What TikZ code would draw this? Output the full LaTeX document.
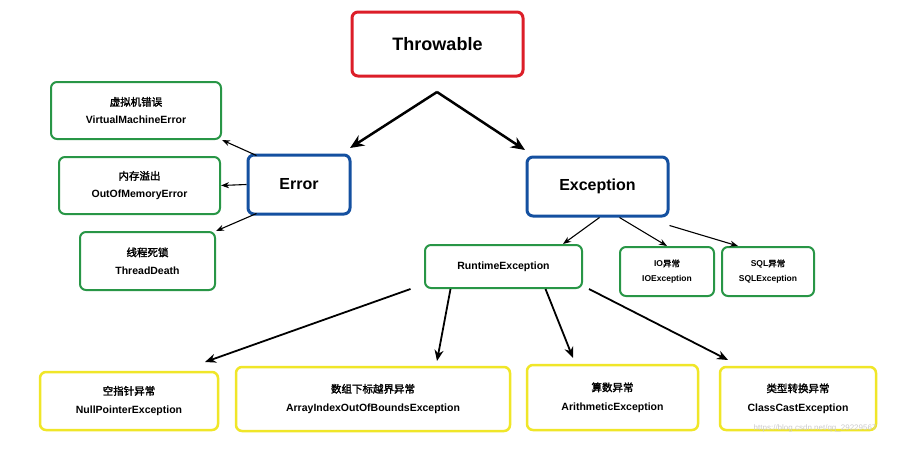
\documentclass[tikz,border=0pt]{standalone}
\usepackage{fontspec}
\setmainfont{Liberation Sans}
\newfontfamily\cjk{Noto Sans CJK SC}[AutoFakeBold=2]
\usetikzlibrary{arrows.meta}
\definecolor{rd}{RGB}{220,30,40}
\definecolor{bl}{RGB}{20,80,160}
\definecolor{gr}{RGB}{40,150,70}
\definecolor{yl}{RGB}{240,230,40}
\tikzset{
 box/.style={draw,rounded corners=6pt,line width=2pt,align=center,inner sep=0pt},
 redbox/.style={box,draw=rd,line width=3pt,font=\bfseries\fontsize{18}{20}\selectfont},
 bluebox/.style={box,draw=bl,line width=3pt,font=\bfseries\fontsize{16}{18}\selectfont},
 grbox/.style={box,draw=gr,font=\bfseries\fontsize{10.5}{18}\selectfont},
 smbox/.style={box,draw=gr,font=\bfseries\fontsize{8.5}{15}\selectfont},
 ybox/.style={box,draw=yl,line width=2.5pt,font=\bfseries\fontsize{10.5}{19}\selectfont},
 big/.style={-{Stealth[length=14pt,width=12pt]},line width=2.5pt},
 mid/.style={-{Stealth[length=11pt,width=9pt]},line width=1.8pt},
 thin/.style={-{Stealth[length=8pt,width=6pt]},line width=1.1pt},
}
\begin{document}
\begin{tikzpicture}[x=1pt,y=-1pt]
\fill[white] (0,0) rectangle (900,471);
\useasboundingbox (0,0) rectangle (900,471);
\node[redbox,minimum width=171,minimum height=64] (t) at (437.5,44) {Throwable};
\node[bluebox,minimum width=102,minimum height=59] (e) at (299,184.5) {Error};
\node[bluebox,minimum width=141,minimum height=59] (x) at (597.5,186.5) {Exception};
\node[grbox,minimum width=170,minimum height=57] (g1) at (136,110.5) {{\cjk 虚拟机错误}\\VirtualMachineError};
\node[grbox,minimum width=161,minimum height=57] (g2) at (139.5,185.5) {{\cjk 内存溢出}\\OutOfMemoryError};
\node[grbox,minimum width=135,minimum height=58] (g3) at (147.5,261) {{\cjk 线程死锁}\\ThreadDeath};
\node[grbox,minimum width=157,minimum height=43] (r) at (503.5,266.5) {RuntimeException};
\node[smbox,minimum width=94,minimum height=49] (io) at (667,271.5) {IO{\cjk 异常}\\IOException};
\node[smbox,minimum width=92,minimum height=49] (sq) at (768,271.5) {SQL{\cjk 异常}\\SQLException};
\node[ybox,minimum width=178,minimum height=58] (y1) at (129,401) {{\cjk 空指针异常}\\NullPointerException};
\node[ybox,minimum width=274,minimum height=64] (y2) at (373,399) {{\cjk 数组下标越界异常}\\ArrayIndexOutOfBoundsException};
\node[ybox,minimum width=171,minimum height=65] (y3) at (612.5,397.5) {{\cjk 算数异常}\\ArithmeticException};
\node[ybox,minimum width=156,minimum height=63] (y4) at (798,398.5) {{\cjk 类型转换异常}\\ClassCastException};
\coordinate (tb) at (437,92);
\coordinate (a1) at (205,362);
\coordinate (a2) at (437,361);
\coordinate (a3) at (573,358);
\coordinate (a4) at (728,360);
\draw[big] (tb) -- (350,148);
\draw[big] (tb) -- (525,150);
\draw[thin] ([shift={(10,2)}]e.north west) -- (g1.south east);
\draw[thin] (e.west) -- (g2.east);
\draw[thin] ([shift={(10,-2)}]e.south west) -- (g3.north east);
\draw[thin] ([xshift=2]x.south) -- ([xshift=-20]r.north east);
\draw[thin] ([xshift=22]x.south) -- (io.north);
\draw[thin] ([yshift=-8]x.south east) -- ([xshift=-30]sq.north);
\draw[mid] ([xshift=-93]r.south) -- (a1);
\draw[mid] ([xshift=-53]r.south) -- (a2);
\draw[mid] ([xshift=42]r.south) -- (a3);
\draw[mid] ([xshift=6]r.south east) -- (a4);
\node[text=gray!40,font=\fontsize{8}{10}\selectfont,anchor=east] (w) at (880,428) {https://blog.csdn.net/qq\_29229567};
\end{tikzpicture}
\end{document}
